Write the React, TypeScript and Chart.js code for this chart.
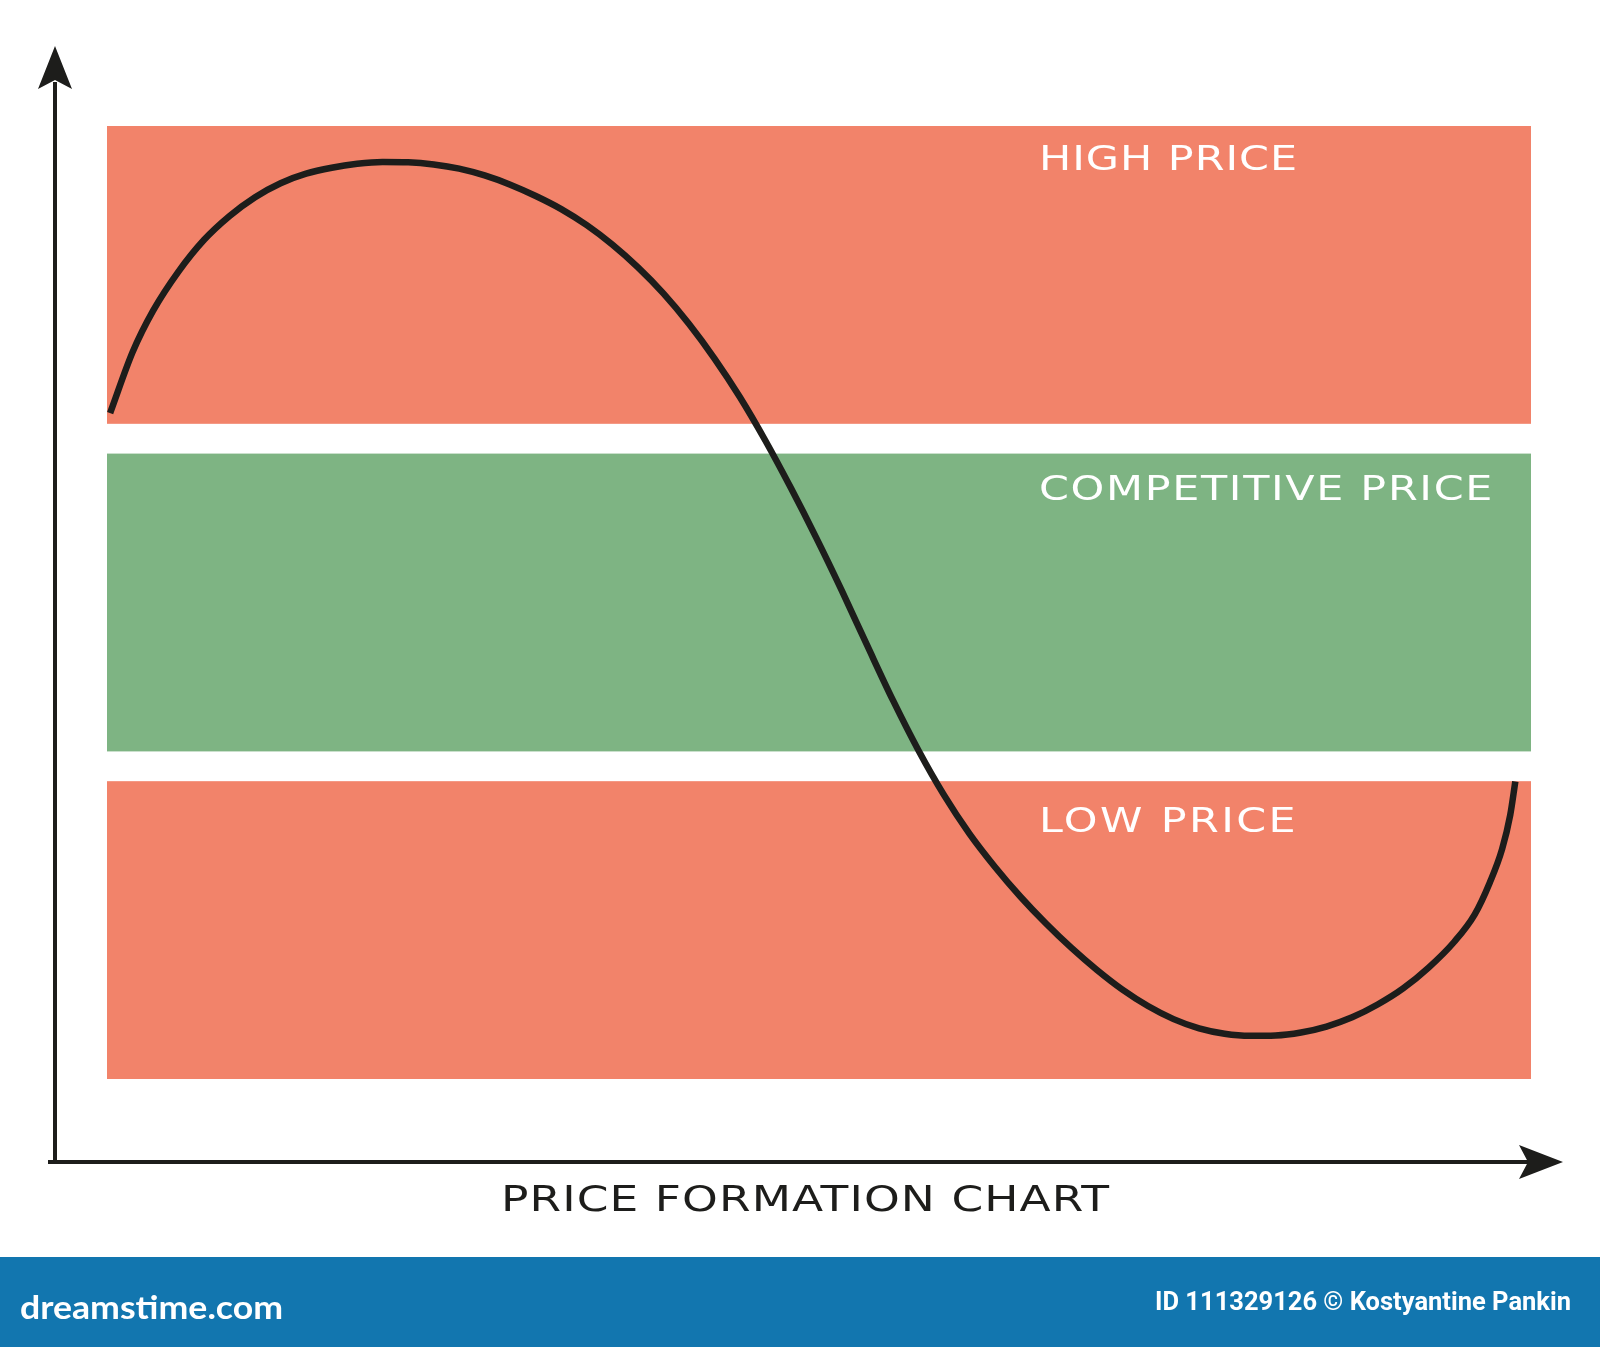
import React, { useEffect, useRef } from "react";
import { Chart, registerables } from "chart.js";

Chart.register(...registerables);

// Curve (time on x 0..100, price on y 0..32)
const curveX = [0.22, 1.8, 3.24, 5.03, 6.82, 8.61, 10.4, 12.19, 13.98, 15.78, 17.57, 19.36, 21.15, 22.94, 24.73, 26.52, 28.32, 30.11, 31.9, 33.69, 35.48, 37.27, 39.07, 40.86, 42.65, 44.44, 46.23, 48.02, 49.81, 51.61, 53.4, 55.19, 56.98, 58.77, 60.56, 62.36, 64.15, 65.94, 67.73, 69.52, 71.31, 73.1, 74.9, 76.69, 78.48, 80.27, 82.06, 83.85, 85.64, 87.44, 89.23, 91.02, 92.81, 94.6, 96.04, 97.11, 97.97, 98.54, 98.9];
const curveY = [22.36, 24.41, 25.8, 27.12, 28.18, 28.98, 29.61, 30.08, 30.4, 30.6, 30.73, 30.79, 30.78, 30.71, 30.57, 30.34, 30.03, 29.65, 29.21, 28.67, 28.02, 27.26, 26.38, 25.36, 24.2, 22.9, 21.44, 19.85, 18.17, 16.39, 14.54, 12.72, 11.04, 9.54, 8.24, 7.12, 6.12, 5.22, 4.4, 3.66, 3.0, 2.45, 2.01, 1.7, 1.52, 1.45, 1.46, 1.56, 1.76, 2.07, 2.5, 3.04, 3.74, 4.6, 5.52, 6.6, 7.72, 8.86, 9.99];

// Price zones
const bandNames = ["LOW PRICE", "COMPETITIVE PRICE", "HIGH PRICE"];
const bandFrom = [0, 11, 22];
const bandTo = [10, 21, 32];
const bandColors = ["#f2836a", "#7eb483", "#f2836a"];

const xAxisTitle = "PRICE FORMATION CHART";
const footerBrand = "dreamstime.com";
const footerCredit = "ID 111329126 \u00A9 Kostyantine Pankin";

function fitText(
  ctx: CanvasRenderingContext2D,
  text: string,
  x: number,
  baseline: number,
  width: number,
  font: string,
  color: string,
  stretch = 1.0
) {
  ctx.save();
  ctx.font = font;
  ctx.fillStyle = color;
  ctx.textAlign = "left";
  ctx.textBaseline = "alphabetic";
  const anyCtx = ctx as any;
  const w0 = ctx.measureText(text).width;
  if (stretch !== 1 && "letterSpacing" in anyCtx) {
    const s = Math.max(0, (width / stretch - w0) / text.length);
    anyCtx.letterSpacing = s.toFixed(2) + "px";
  }
  const w1 = ctx.measureText(text).width;
  ctx.translate(x, baseline);
  ctx.scale(width / w1, 1);
  ctx.fillText(text, 0, 0);
  ctx.restore();
}

function arrowHead(
  ctx: CanvasRenderingContext2D,
  tip: [number, number],
  w1: [number, number],
  notch: [number, number],
  w2: [number, number]
) {
  ctx.beginPath();
  ctx.moveTo(tip[0], tip[1]);
  ctx.lineTo(w1[0], w1[1]);
  ctx.lineTo(notch[0], notch[1]);
  ctx.lineTo(w2[0], w2[1]);
  ctx.closePath();
  ctx.fill();
}

const bandsPlugin = {
  id: "bands",
  beforeDatasetsDraw(chart: any) {
    const { ctx } = chart;
    const xs = chart.scales.x;
    const ys = chart.scales.y;
    const left = xs.getPixelForValue(0);
    const right = xs.getPixelForValue(100);
    ctx.save();
    bandNames.forEach((name, i) => {
      const top = ys.getPixelForValue(bandTo[i]);
      const bottom = ys.getPixelForValue(bandFrom[i]);
      ctx.fillStyle = bandColors[i];
      ctx.fillRect(left, top, right - left, bottom - top);
    });
    const labelX = xs.getPixelForValue(65.45);
    const offsets = [51, 46, 44];
    const widths = [259, 455, 259];
    bandNames.forEach((name, i) => {
      const top = ys.getPixelForValue(bandTo[i]);
      fitText(ctx, name, labelX, top + offsets[i], widths[i], "33px 'DejaVu Sans'", "#ffffff", 1.3);
    });
    ctx.restore();
  },
  afterDraw(chart: any) {
    const { ctx } = chart;
    ctx.save();
    // axes
    ctx.strokeStyle = "#1d1d1b";
    ctx.fillStyle = "#1d1d1b";
    ctx.lineWidth = 4;
    ctx.lineCap = "butt";
    ctx.beginPath();
    ctx.moveTo(55, 82);
    ctx.lineTo(55, 1164);
    ctx.stroke();
    ctx.beginPath();
    ctx.moveTo(48, 1162);
    ctx.lineTo(1530, 1162);
    ctx.stroke();
    arrowHead(ctx, [55, 46], [38, 89], [55, 80], [72, 89]);
    arrowHead(ctx, [1563, 1162], [1519, 1145], [1528, 1162], [1519, 1179]);
    // axis title
    fitText(ctx, xAxisTitle, 501, 1211, 609, "35px 'DejaVu Sans'", "#1d1d1b", 1.3);
    // footer
    ctx.fillStyle = "#1276af";
    ctx.fillRect(0, 1257, 1600, 90);
    fitText(ctx, footerBrand, 20, 1319, 263, "bold 33px Lato", "#ffffff");
    fitText(ctx, footerCredit, 1155, 1310, 416, "bold 25px Roboto", "#ffffff");
    ctx.restore();
  },
};

export default function App() {
  const ref = useRef<HTMLCanvasElement | null>(null);
  useEffect(() => {
    if (!ref.current) return;
    const chart = new Chart(ref.current, {
      type: "line",
      data: {
        datasets: [
          {
            label: "Price",
            data: curveX.map((x, i) => ({ x, y: curveY[i] })),
            borderColor: "#1d1d1b",
            borderWidth: 6.5,
            borderCapStyle: "butt",
            borderJoinStyle: "round",
            pointRadius: 0,
            cubicInterpolationMode: "monotone",
            fill: false,
            clip: false as any,
          },
        ],
      },
      options: {
        animation: false,
        responsive: false,
        devicePixelRatio: 1,
        layout: { padding: { left: 107, right: 69, top: 126, bottom: 268 } },
        plugins: { legend: { display: false }, tooltip: { enabled: false }, title: { display: false } },
        scales: {
          x: { type: "linear", min: 0, max: 100, display: false },
          y: { type: "linear", min: 0, max: 32, display: false },
        },
      },
      plugins: [bandsPlugin],
    });
    return () => chart.destroy();
  }, []);
  return (
    <div style={{ position: "absolute", left: 0, top: 0, width: 1600, height: 1347, background: "#ffffff" }}>
      <canvas ref={ref} width={1600} height={1347} style={{ display: "block" }} />
    </div>
  );
}
